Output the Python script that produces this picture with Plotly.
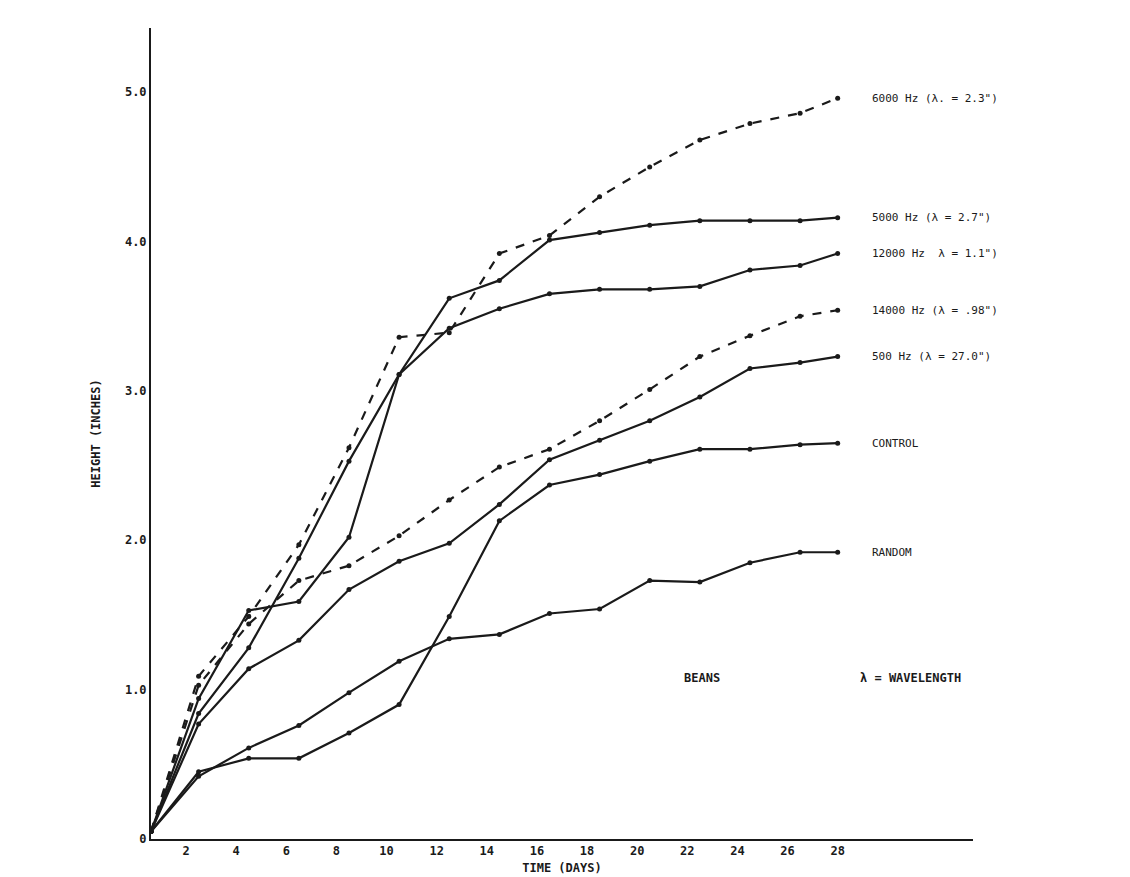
import plotly.graph_objects as go

days = [0.6, 2.5, 4.5, 6.5, 8.5, 10.5, 12.5, 14.5, 16.5, 18.5, 20.5, 22.5, 24.5, 26.5, 28]
hz6000 = [0.05, 1.09, 1.49, 1.97, 2.62, 3.36, 3.39, 3.92, 4.04, 4.30, 4.50, 4.68, 4.79, 4.86, 4.96]
hz5000 = [0.05, 0.94, 1.53, 1.59, 2.02, 3.11, 3.62, 3.74, 4.01, 4.06, 4.11, 4.14, 4.14, 4.14, 4.16]
hz12000 = [0.05, 0.84, 1.28, 1.88, 2.53, 3.11, 3.42, 3.55, 3.65, 3.68, 3.68, 3.70, 3.81, 3.84, 3.92]
hz14000 = [0.05, 1.03, 1.44, 1.73, 1.83, 2.03, 2.27, 2.49, 2.61, 2.80, 3.01, 3.23, 3.37, 3.50, 3.54]
hz500 = [0.05, 0.77, 1.14, 1.33, 1.67, 1.86, 1.98, 2.24, 2.54, 2.67, 2.80, 2.96, 3.15, 3.19, 3.23]
control = [0.05, 0.45, 0.54, 0.54, 0.71, 0.90, 1.49, 2.13, 2.37, 2.44, 2.53, 2.61, 2.61, 2.64, 2.65]
random_ = [0.05, 0.42, 0.61, 0.76, 0.98, 1.19, 1.34, 1.37, 1.51, 1.54, 1.73, 1.72, 1.85, 1.92, 1.92]

series = [
    ("6000 Hz (λ. = 2.3\")", hz6000, "dash"),
    ("5000 Hz (λ = 2.7\")", hz5000, "solid"),
    ("12000 Hz  λ = 1.1\")", hz12000, "solid"),
    ("14000 Hz (λ = .98\")", hz14000, "dash"),
    ("500 Hz (λ = 27.0\")", hz500, "solid"),
    ("CONTROL", control, "solid"),
    ("RANDOM", random_, "solid"),
]
xticks = [2, 4, 6, 8, 10, 12, 14, 16, 18, 20, 22, 24, 26, 28]
yticks = [0, 1, 2, 3, 4, 5]
yticklabels = ["0", "1.0", "2.0", "3.0", "4.0", "5.0"]

FONT = "DejaVu Sans Mono"
INK = "#1a1a1a"
fig = go.Figure()
for name, vals, dash in series:
    fig.add_trace(go.Scatter(x=days, y=vals, mode="lines+markers", name=name,
                             line=dict(color=INK, width=2.2, dash=dash),
                             marker=dict(size=5, color=INK)))
    fig.add_annotation(x=29.3, y=vals[-1], text=name, showarrow=False, xanchor="left",
                       font=dict(family=FONT, size=11, color=INK))

fig.add_annotation(x=22.6, y=1.08, text="BEANS", showarrow=False,
                   font=dict(family=FONT, size=12, color=INK, weight="bold"))
fig.add_annotation(x=28.8, y=1.08, text="λ = WAVELENGTH", showarrow=False, xanchor="left",
                   font=dict(family=FONT, size=12, color=INK, weight="bold"))

fig.update_layout(
    width=1130, height=877, showlegend=False,
    paper_bgcolor="white", plot_bgcolor="white",
    margin=dict(l=143, r=165, t=20, b=40),
    font=dict(family=FONT, size=12, color=INK),
    xaxis=dict(range=[0.6, 33.4], tickvals=xticks, ticktext=[str(t) for t in xticks],
               showgrid=False, zeroline=False, showline=True, linecolor=INK, linewidth=2,
               ticks="", ticklen=0, tickfont=dict(family=FONT, size=12, weight="bold"),
               title=dict(text="TIME (DAYS)", standoff=6,
                          font=dict(family=FONT, size=12, weight="bold"))),
    yaxis=dict(range=[0, 5.43], tickvals=yticks, ticktext=yticklabels,
               showgrid=False, zeroline=False, showline=True, linecolor=INK, linewidth=2,
               ticks="", ticklen=0, tickfont=dict(family=FONT, size=12, weight="bold"),
               title=dict(text="HEIGHT (INCHES)", standoff=22,
                          font=dict(family=FONT, size=12, weight="bold"))),
)
fig.write_html("out.html")
